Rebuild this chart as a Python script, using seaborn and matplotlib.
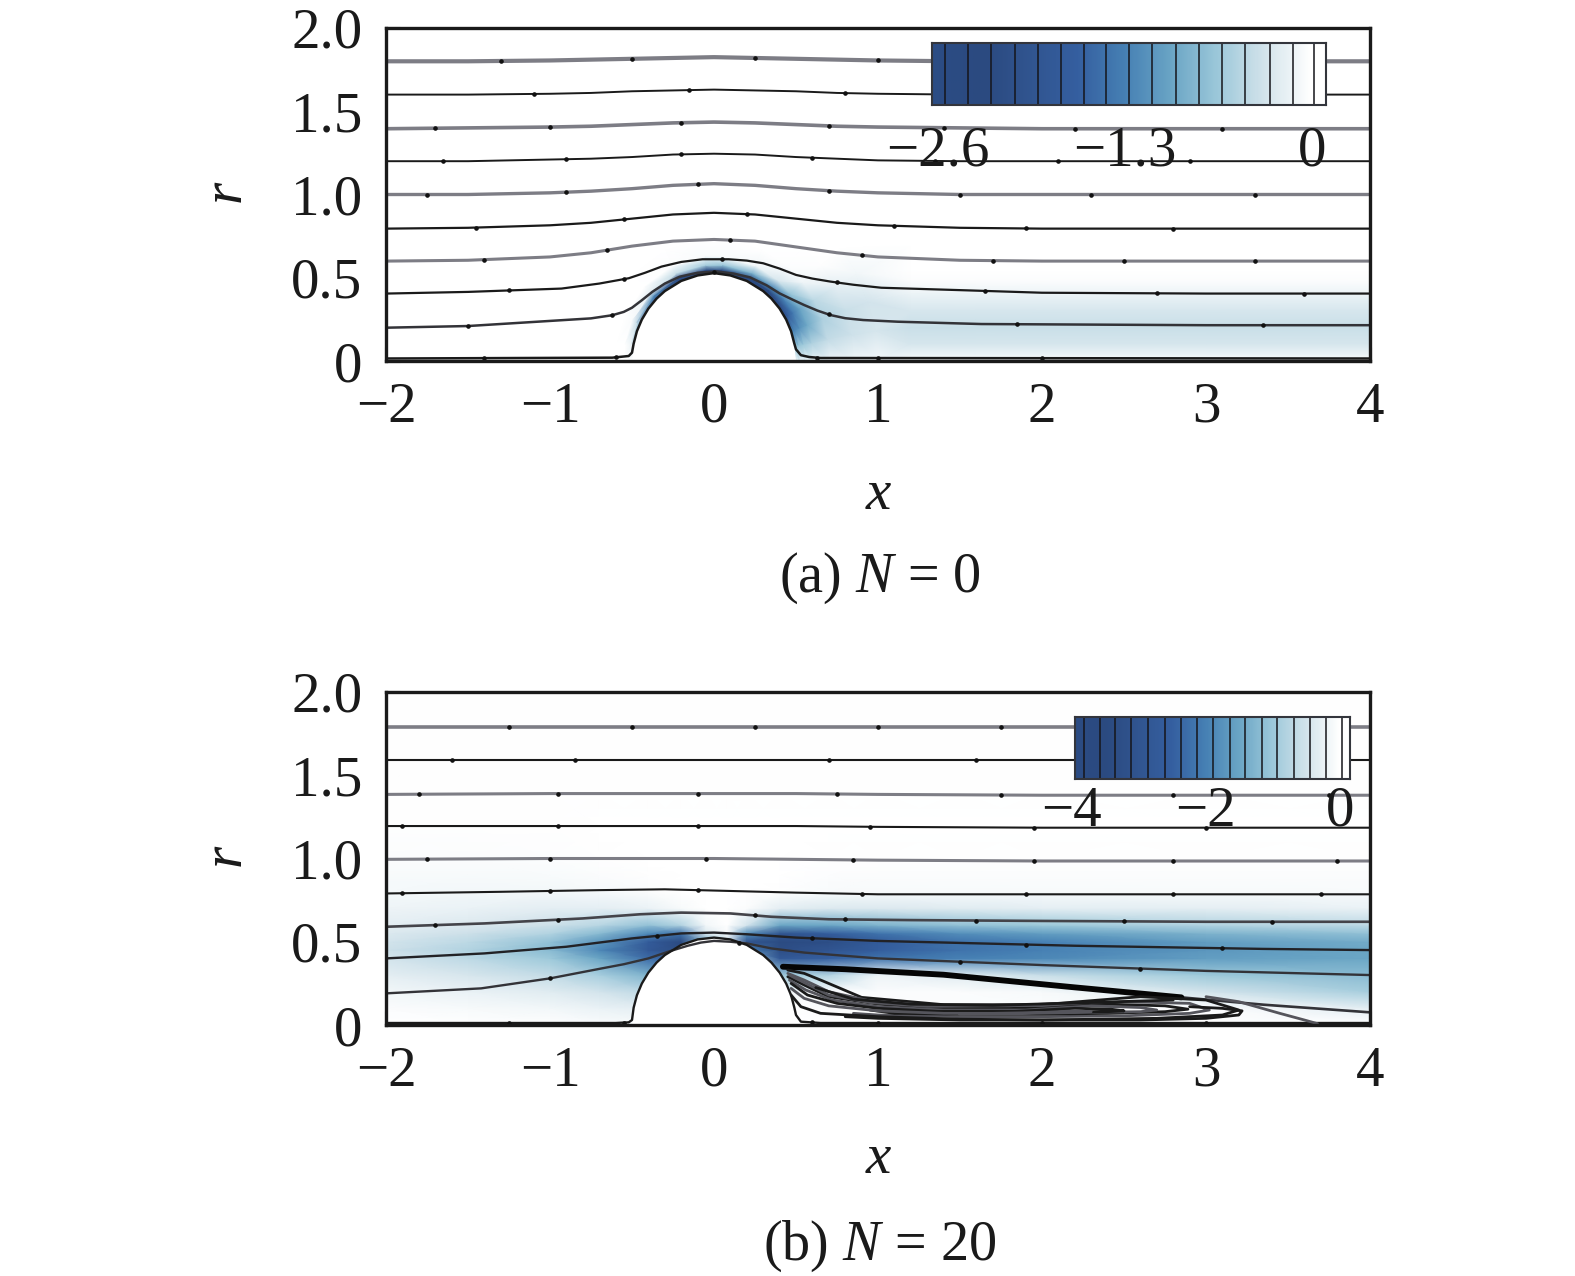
import numpy as np
import matplotlib
matplotlib.use("Agg")
import matplotlib.pyplot as plt
import seaborn as sns

sns.set_theme(style="ticks")
plt.rcParams.update({
    "font.family": ["Liberation Serif", "DejaVu Serif"],
    "mathtext.fontset": "custom",
    "mathtext.rm": "Liberation Serif",
    "mathtext.it": "Liberation Serif:italic",
    "axes.unicode_minus": True,
})

W, H = 1575, 1276
BLACK = "#1a1a1a"
GREY = "#7d7d85"

x_ticks = [-2, -1, 0, 1, 2, 3, 4]
x_ticklabels = ["\u22122", "\u22121", "0", "1", "2", "3", "4"]
r_ticks = [0, 0.5, 1.0, 1.5, 2.0]
r_ticklabels = ["0", "0.5", "1.0", "1.5", "2.0"]
r_minor = [0.1, 0.2, 0.3, 0.4, 0.6, 0.7, 0.8, 0.9, 1.1, 1.2, 1.3, 1.4, 1.6, 1.7, 1.8, 1.9]

cmap_colors = ["#2b4c84", "#2b4a80", "#315590", "#355fa0", "#4680b4",
               "#6aa5c5", "#9cc8da", "#d2e3eb", "#ffffff"]
cmap = sns.blend_palette(cmap_colors, as_cmap=True)

body_x = [-0.5, -0.49, -0.47, -0.44, -0.4, -0.35, -0.3, -0.25, -0.2, -0.15, -0.1, -0.05, 0,
          0.05, 0.1, 0.15, 0.2, 0.25, 0.3, 0.35, 0.4, 0.44, 0.47, 0.49, 0.5]
body_r = [0, 0.104, 0.179, 0.249, 0.315, 0.375, 0.42, 0.455, 0.481, 0.501, 0.514, 0.522, 0.525,
          0.522, 0.514, 0.501, 0.481, 0.455, 0.42, 0.375, 0.315, 0.249, 0.179, 0.104, 0]

# ---------- panel (a)
a_common_x = [-2, -1.5, -1, -0.75, -0.5, -0.25, 0, 0.25, 0.5, 0.75, 1, 1.5, 2, 3, 4]
a_r18 = [1.80, 1.80, 1.805, 1.81, 1.815, 1.82, 1.825, 1.82, 1.815, 1.81, 1.805, 1.80, 1.80, 1.80, 1.80]
a_r16 = [1.60, 1.60, 1.605, 1.61, 1.62, 1.625, 1.63, 1.625, 1.62, 1.61, 1.605, 1.60, 1.60, 1.60, 1.60]
a_r14 = [1.395, 1.40, 1.405, 1.41, 1.42, 1.43, 1.435, 1.43, 1.42, 1.41, 1.405, 1.40, 1.395, 1.395, 1.395]
a_r12 = [1.20, 1.20, 1.21, 1.215, 1.225, 1.24, 1.245, 1.24, 1.225, 1.215, 1.205, 1.20, 1.20, 1.20, 1.20]
a_r10 = [1.0, 1.0, 1.01, 1.02, 1.035, 1.055, 1.065, 1.055, 1.035, 1.02, 1.01, 1.0, 1.0, 1.0, 1.0]
a_r08 = [0.795, 0.80, 0.815, 0.83, 0.855, 0.88, 0.89, 0.88, 0.855, 0.83, 0.815, 0.80, 0.795, 0.795, 0.795]
a_r06 = [0.60, 0.605, 0.625, 0.65, 0.69, 0.72, 0.73, 0.72, 0.685, 0.65, 0.625, 0.605, 0.60, 0.60, 0.60]
a_r04_x = [-2, -1.5, -0.93, -0.7, -0.52, -0.42, -0.32, -0.2, -0.07, 0.09, 0.2, 0.30, 0.4, 0.5, 0.6, 0.71, 0.85, 1.02, 1.52, 2, 3, 4]
a_r04 = [0.405, 0.415, 0.435, 0.465, 0.497, 0.53, 0.567, 0.595, 0.611, 0.611, 0.603, 0.587, 0.555, 0.517, 0.495, 0.477, 0.458, 0.44, 0.425, 0.41, 0.405, 0.405]
a_r02_x = [-2, -1.5, -0.93, -0.75, -0.62, -0.55, -0.5, -0.44, -0.375, -0.3, -0.21, -0.1, 0.015, 0.12, 0.22, 0.32, 0.4, 0.48, 0.55, 0.63, 0.71, 0.8, 0.91, 1.12, 1.63, 3, 4]
a_r02 = [0.20, 0.21, 0.245, 0.256, 0.275, 0.295, 0.32, 0.365, 0.416, 0.465, 0.506, 0.53, 0.538, 0.525, 0.502, 0.455, 0.406, 0.368, 0.336, 0.303, 0.276, 0.257, 0.246, 0.236, 0.222, 0.215, 0.215]
a_r00_x = [-2, -0.62, -0.52, -0.5, -0.49, -0.47, -0.44, -0.4, -0.35, -0.3, -0.2, -0.1, 0, 0.1, 0.2, 0.3, 0.35, 0.4, 0.44, 0.47, 0.49, 0.5, 0.53, 0.58, 0.65, 4]
a_r00 = [0.015, 0.02, 0.03, 0.05, 0.104, 0.179, 0.249, 0.315, 0.375, 0.42, 0.481, 0.514, 0.528, 0.514, 0.481, 0.42, 0.375, 0.315, 0.249, 0.179, 0.104, 0.07, 0.035, 0.024, 0.018, 0.015]

a_lines = [(a_common_x, a_r18, GREY, 3.0), (a_common_x, a_r16, BLACK, 1.4),
           (a_common_x, a_r14, GREY, 2.6), (a_common_x, a_r12, BLACK, 1.4),
           (a_common_x, a_r10, GREY, 2.4), (a_common_x, a_r08, BLACK, 1.6),
           (a_common_x, a_r06, GREY, 2.2), (a_r04_x, a_r04, BLACK, 1.6),
           (a_r02_x, a_r02, "#333338", 1.8), (a_r00_x, a_r00, BLACK, 1.8)]
a_dots = [[-1.3, -0.5, 0.25, 1.0, 1.7, 2.5, 3.3], [-1.1, -0.15, 0.8, 1.5, 2.3, 3.1],
          [-1.7, -1.0, -0.2, 0.7, 1.4, 2.2, 3.1], [-1.65, -0.9, -0.2, 0.6, 1.35, 2.1, 2.9],
          [-1.75, -0.9, -0.1, 0.7, 1.5, 2.3, 3.3], [-1.45, -0.55, 0.2, 1.1, 1.9, 2.8],
          [-1.4, -0.65, 0.1, 0.9, 1.7, 2.5, 3.3], [-1.25, -0.55, 0.05, 0.75, 1.65, 2.7, 3.6],
          [-1.5, -0.62, 0.0, 0.7, 1.85, 3.35], [-1.4, -0.6, 0.63, 1.0, 2.0]]

a_theta = [180, 170, 155, 135, 115, 95, 85, 65, 50, 40, 30, 20, 10, 0]
a_rho = [0.5, 0.52, 0.55, 0.6, 0.7, 0.85, 1.0]
a_polar = [
    [0, 0, 0, 0, 0, 0, 0],
    [-0.2, -0.1, 0, 0, 0, 0, 0],
    [-0.8, -0.4, -0.05, 0, 0, 0, 0],
    [-1.9, -1.2, -0.2, 0, 0, 0, 0],
    [-2.5, -2.2, -0.4, -0.03, 0, 0, 0],
    [-2.6, -2.5, -0.6, -0.05, 0, 0, 0],
    [-2.6, -2.5, -0.7, -0.05, 0, 0, 0],
    [-2.6, -2.4, -0.9, -0.1, 0, 0, 0],
    [-2.5, -2.3, -1.2, -0.3, -0.03, 0, 0],
    [-2.3, -2.0, -1.3, -0.7, -0.12, -0.02, 0],
    [-1.9, -1.7, -1.4, -1.0, -0.45, -0.2, -0.1],
    [-1.3, -1.25, -1.15, -0.95, -0.55, -0.38, -0.32],
    [-0.7, -0.7, -0.65, -0.55, -0.42, -0.35, -0.3],
    [-0.15, -0.15, -0.15, -0.15, -0.12, -0.1, -0.08],
]
a_wake_x = [1.2, 1.6, 2, 3, 4]
a_wake_r = [0, 0.04, 0.1, 0.2, 0.3, 0.4, 0.48, 0.55, 0.7]
a_wake_v = [-0.06, -0.15, -0.3, -0.38, -0.3, -0.15, -0.04, 0, 0]
a_far_x = [-2, -1, 0, 1, 2, 3, 4]
a_far_r = [0, 1.2, 2.0]

a_levels = [-2.553, -2.39, -2.23, -2.06, -1.90, -1.74, -1.58, -1.43, -1.27, -1.11, -0.94,
            -0.78, -0.62, -0.46, -0.29, -0.13, 0.02]
a_cb_labels = ["\u22122.6", "\u22121.3", "0"]
a_cb_ticks = [-2.6, -1.3, 0]

# ---------- panel (b)
b_common_x = [-2, -1, -0.5, 0, 0.5, 1, 2, 3, 4]
b_r18 = [1.79, 1.79, 1.79, 1.79, 1.79, 1.79, 1.79, 1.79, 1.79]
b_r16 = [1.59, 1.59, 1.59, 1.59, 1.59, 1.59, 1.59, 1.59, 1.59]
b_r14 = [1.385, 1.39, 1.39, 1.39, 1.39, 1.385, 1.38, 1.38, 1.38]
b_r12 = [1.195, 1.195, 1.195, 1.195, 1.195, 1.19, 1.185, 1.185, 1.185]
b_r10 = [0.995, 1.0, 1.0, 1.0, 0.995, 0.99, 0.985, 0.985, 0.985]
b_r08_x = [-2, -1.3, -0.7, -0.3, 0.1, 0.5, 1, 2, 3, 4]
b_r08 = [0.79, 0.80, 0.81, 0.815, 0.805, 0.795, 0.785, 0.785, 0.785, 0.785]
b_r06_x = [-2, -1.4, -0.8, -0.45, -0.2, 0.1, 0.35, 0.7, 1.2, 2, 3, 4]
b_r06 = [0.59, 0.61, 0.64, 0.665, 0.675, 0.67, 0.65, 0.635, 0.63, 0.625, 0.62, 0.62]
b_r04_x = [-2, -1.4, -0.9, -0.5, -0.2, 0, 0.2, 0.5, 1, 2.2, 3.35, 4]
b_r04 = [0.40, 0.43, 0.47, 0.52, 0.55, 0.555, 0.545, 0.525, 0.505, 0.476, 0.457, 0.45]
b_r02_x = [-2, -1.42, -1, -0.7, -0.55, -0.4, -0.28, -0.16, -0.08, 0, 0.1, 0.2, 0.35, 0.55, 1, 2, 3, 4]
b_r02 = [0.19, 0.22, 0.28, 0.337, 0.365, 0.40, 0.44, 0.476, 0.495, 0.505, 0.50, 0.49, 0.46, 0.435, 0.40, 0.36, 0.325, 0.30]
b_sep_x = [0.42, 0.6, 1.4, 2.2, 2.85, 3.35, 4]
b_sep = [0.35, 0.346, 0.306, 0.226, 0.166, 0.122, 0.076]
b_thick_x = [0.42, 0.8, 1.4, 2.2, 2.85]
b_thick = [0.35, 0.335, 0.302, 0.226, 0.166]
b_r00_x = [-2, -0.6, -0.52, -0.5, -0.49, -0.47, -0.44, -0.4, -0.35, -0.3, -0.2, -0.1, 0, 0.1, 0.2, 0.3, 0.35, 0.4, 0.44, 0.47, 0.49, 0.5, 0.53, 0.65, 4]
b_r00 = [0.012, 0.012, 0.016, 0.03, 0.104, 0.179, 0.249, 0.315, 0.375, 0.42, 0.481, 0.514, 0.525, 0.514, 0.481, 0.42, 0.375, 0.315, 0.249, 0.179, 0.104, 0.06, 0.02, 0.012, 0.012]

b_lines = [(b_common_x, b_r18, GREY, 2.6), (b_common_x, b_r16, BLACK, 1.5),
           (b_common_x, b_r14, GREY, 2.2), (b_common_x, b_r12, BLACK, 1.5),
           (b_common_x, b_r10, GREY, 2.2),
           (b_r08_x, b_r08, BLACK, 1.5), (b_r06_x, b_r06, "#44444a", 1.9),
           (b_r04_x, b_r04, "#222226", 1.7), (b_r02_x, b_r02, "#333338", 1.7),
           (b_r00_x, b_r00, BLACK, 1.7), (b_sep_x, b_sep, "#333338", 1.9),
           (b_thick_x, b_thick, "#050505", 4.2)]
b_dots = [[-1.25, -0.5, 0.25, 1.0, 1.75, 2.5], [-1.6, -0.85, 0.7, 1.6, 2.5, 3.45],
          [-1.8, -0.95, -0.1, 0.75, 1.75, 2.8, 3.75], [-1.9, -0.95, -0.1, 0.95, 1.95, 3.0],
          [-1.75, -1, -0.05, 0.85, 1.95, 2.8, 3.8],
          [-1.9, -1.0, -0.1, 0.9, 1.9, 2.8, 3.7], [-1.7, -0.95, 0.25, 0.8, 1.6, 2.5, 3.4],
          [-0.35, 0.6, 1.9, 3.1], [-1.0, 0.15, 1.5, 2.6], [-1.25, -0.55, 0.6, 1.0, 2.0, 3.0], [], []]

b_loop1_x = [0.45, 0.55, 0.66, 0.9, 1.4, 2.0, 2.6, 3.0, 3.2, 3.1, 2.7, 2.0, 1.5, 1.0, 0.8]
b_loop1_r = [0.33, 0.31, 0.266, 0.166, 0.122, 0.122, 0.17, 0.15, 0.09, 0.06, 0.04, 0.03, 0.03, 0.04, 0.05]
b_loop2_x = [0.45, 0.55, 0.7, 0.95, 1.4, 2.0, 2.5, 2.9, 3.02, 2.9, 2.5, 2.0, 1.5, 1.0, 0.85]
b_loop2_r = [0.31, 0.27, 0.2, 0.145, 0.11, 0.11, 0.14, 0.13, 0.09, 0.07, 0.055, 0.05, 0.05, 0.06, 0.07]
b_loop3_x = [0.45, 0.55, 0.7, 1.0, 1.4, 2.0, 2.4, 2.75, 2.89, 2.75, 2.4, 2.0, 1.5, 1.1, 0.95]
b_loop3_r = [0.29, 0.24, 0.17, 0.125, 0.1, 0.1, 0.125, 0.115, 0.095, 0.08, 0.07, 0.065, 0.065, 0.07, 0.09]
b_loop4_x = [0.46, 0.56, 0.72, 1.0, 1.4, 1.9, 2.3, 2.6, 2.7, 2.6, 2.2, 1.8, 1.4, 1.1]
b_loop4_r = [0.27, 0.21, 0.15, 0.11, 0.09, 0.09, 0.115, 0.105, 0.09, 0.08, 0.075, 0.075, 0.075, 0.085]
b_loop5_x = [0.47, 0.57, 0.75, 1.0, 1.4, 1.8, 2.2, 2.42, 2.5, 2.4, 2.1, 1.7, 1.3]
b_loop5_r = [0.25, 0.18, 0.13, 0.1, 0.08, 0.08, 0.1, 0.095, 0.085, 0.08, 0.078, 0.08, 0.08]
b_loop6_x = [0.47, 0.55, 0.7, 1.0, 1.4, 1.7, 2.0, 2.2, 2.3, 2.2, 1.9, 1.5]
b_loop6_r = [0.22, 0.16, 0.115, 0.085, 0.07, 0.07, 0.075, 0.085, 0.08, 0.075, 0.07, 0.065]
b_loop7_x = [0.47, 0.53, 0.65, 1.0, 1.5, 2.0, 2.6, 3.0, 3.2, 3.22, 3.1, 2.9]
b_loop7_r = [0.18, 0.11, 0.07, 0.05, 0.035, 0.03, 0.03, 0.04, 0.06, 0.085, 0.1, 0.11]
b_loop8_x = [0.46, 0.56, 0.7, 0.95, 1.3, 1.8, 2.1]
b_loop8_r = [0.3, 0.25, 0.18, 0.135, 0.112, 0.115, 0.13]
b_loop9_x = [0.62, 0.85, 1.2, 1.7, 2.3, 2.8]
b_loop9_r = [0.225, 0.155, 0.125, 0.118, 0.135, 0.15]
b_tail_x = [3.0, 3.2, 3.45, 3.6, 3.68]
b_tail_r = [0.17, 0.14, 0.07, 0.03, 0.008]
b_loops = [(b_loop1_x, b_loop1_r), (b_loop2_x, b_loop2_r), (b_loop3_x, b_loop3_r), (b_loop4_x, b_loop4_r),
           (b_loop5_x, b_loop5_r), (b_loop6_x, b_loop6_r), (b_loop7_x, b_loop7_r), (b_loop8_x, b_loop8_r),
           (b_loop9_x, b_loop9_r), (b_tail_x, b_tail_r)]

b_grid_x = [-2, -1.5, -1, -0.7, -0.4, -0.2, -0.05, 0.08, 0.2, 0.4, 0.7, 1, 1.5, 2, 3, 4]
b_grid_r = [0, 0.1, 0.2, 0.3, 0.4, 0.45, 0.5, 0.55, 0.6, 0.7, 0.8, 0.9, 1.0, 1.2, 1.4, 2.0]
b_field = [
    [0, -0.01, -0.02, -0.05, -0.08, -0.1, 0, 0, 0, 0, 0, 0, 0, 0, 0, 0],
    [-0.05, -0.1, -0.15, -0.25, -0.3, -0.3, 0, 0, 0, 0, -0.05, -0.05, -0.05, -0.05, -0.05, -0.3],
    [-0.15, -0.25, -0.35, -0.5, -0.7, -0.9, 0, 0, 0, -0.2, -0.05, -0.05, -0.05, -0.1, -0.5, -0.9],
    [-0.3, -0.45, -0.65, -0.9, -1.3, -1.5, -1, -1, -1, -1.0, -0.8, -0.2, -0.35, -0.6, -1.0, -1.2],
    [-0.5, -0.7, -1.0, -1.5, -2.3, -2.4, -1, -1, -1, -2.8, -2.5, -2.2, -2.0, -1.9, -1.6, -1.5],
    [-0.55, -0.8, -1.2, -1.9, -2.8, -3.3, -1, -1, -2, -3.3, -3.0, -2.6, -2.2, -2.0, -1.7, -1.5],
    [-0.5, -0.7, -1.1, -1.7, -2.7, -3.6, -1.5, -0.5, -3.0, -3.8, -3.3, -2.7, -2.2, -2.0, -1.6, -1.4],
    [-0.4, -0.55, -0.8, -1.2, -1.9, -2.2, -0.4, -0.1, -1.8, -3.0, -2.6, -2.2, -1.8, -1.6, -1.3, -1.1],
    [-0.3, -0.4, -0.55, -0.75, -1.1, -0.8, -0.15, 0, -0.5, -1.5, -1.5, -1.3, -1.1, -1.0, -0.8, -0.7],
    [-0.2, -0.25, -0.3, -0.3, -0.25, -0.1, 0, 0, -0.05, -0.3, -0.4, -0.4, -0.35, -0.3, -0.3, -0.25],
    [-0.12, -0.15, -0.15, -0.12, -0.05, 0, 0, 0, 0, -0.03, -0.08, -0.1, -0.1, -0.1, -0.1, -0.08],
    [-0.1, -0.1, -0.08, -0.05, -0.02, 0, 0, 0, 0, 0, -0.04, -0.06, -0.06, -0.06, -0.06, -0.06],
    [-0.06, -0.06, -0.04, -0.03, 0, 0, 0, 0, 0, 0, -0.02, -0.03, -0.03, -0.03, -0.03, -0.03],
    [-0.03, -0.03, -0.02, -0.01, 0, 0, 0, 0, 0, 0, 0, -0.01, -0.01, -0.01, -0.01, -0.01],
    [-0.02, -0.02, -0.02, -0.02, -0.02, -0.02, -0.02, -0.02, -0.02, -0.02, -0.02, -0.02, -0.02, -0.02, -0.02, -0.02],
    [-0.03, -0.03, -0.03, -0.03, -0.03, -0.03, -0.03, -0.03, -0.03, -0.03, -0.03, -0.03, -0.03, -0.03, -0.03, -0.03],
]
b_levels = [-3.81, -3.57, -3.34, -3.10, -2.85, -2.60, -2.37, -2.13, -1.89, -1.64, -1.41, -1.16,
            -0.93, -0.68, -0.45, -0.21, 0.03]
b_cb_labels = ["\u22124", "\u22122", "0"]
b_cb_ticks = [-4, -2, 0]


def px_axes(fig, left, top, right, bottom, **kw):
    return fig.add_axes([left / W, 1 - bottom / H, (right - left) / W, (bottom - top) / H], **kw)


def style_axes(ax):
    ax.set_xlim(-2, 4)
    ax.set_ylim(0, 2)
    ax.set_xticks(x_ticks, x_ticklabels)
    ax.set_yticks(r_ticks, r_ticklabels)
    ax.set_yticks(r_minor, minor=True)
    ax.tick_params(axis="both", which="major", direction="in", length=10, width=2.2,
                   labelsize=41, color=BLACK, labelcolor=BLACK)
    ax.tick_params(axis="x", which="major", pad=15)
    ax.tick_params(axis="y", which="major", pad=17)
    ax.tick_params(axis="y", which="minor", direction="in", length=2.5, width=1.5, color=BLACK)
    for s in ax.spines.values():
        s.set_visible(True)
        s.set_linewidth(2.4)
        s.set_color(BLACK)
        s.set_zorder(20)
    ax.set_xlabel("x", style="italic", fontsize=41, color=BLACK)
    ax.set_ylabel("r", style="italic", fontsize=41, color=BLACK)
    ax.xaxis.set_label_coords(0.50, -0.325)
    ax.yaxis.set_label_coords(-0.137, 0.51)
    ax.set_facecolor("white")


def draw_lines(ax, lines, dots):
    for (lx, lr, col, lw), d in zip(lines, dots):
        sns.lineplot(x=lx, y=lr, ax=ax, color=col, linewidth=lw, sort=False,
                     estimator=None, legend=False, zorder=5)
        if d:
            ax.plot(d, np.interp(d, lx, lr), ls="none", marker="o", ms=2.3,
                    color="#111111", zorder=6, clip_on=True)


def draw_body(ax):
    ax.fill(body_x, body_r, color="white", lw=0, zorder=3)


def draw_colorbar(fig, ax, rect, extent, levels, ticks, labels, vmin, label_y):
    cax = px_axes(fig, *rect)
    cax.set_zorder(10)
    vals = np.array([np.linspace(extent[0], extent[1], 300)])
    cax.imshow(vals, aspect="auto", extent=[extent[0], extent[1], 0, 1], cmap=cmap, vmin=vmin, vmax=0)
    cax.vlines(levels, 0, 1, color="#15151a", lw=1.1)
    cax.set_xticks([])
    cax.set_yticks([])
    for s in cax.spines.values():
        s.set_visible(True)
        s.set_color("#33353c")
        s.set_linewidth(1.5)
    left, top, right, bottom = rect
    sc = (right - left) / (extent[1] - extent[0])
    for t, lab in zip(ticks, labels):
        px = left + (t - extent[0]) * sc
        fig.text(px / W, 1 - label_y / H, lab, ha="center", va="center", fontsize=41,
                 color=BLACK, zorder=12)


fig = plt.figure(figsize=(W / 100, H / 100), dpi=100, facecolor="white")

# panel (a)
ax1 = px_axes(fig, 386, 28, 1370, 361)
tx, tr, tv = [], [], []
for i, th in enumerate(a_theta):
    for j, rho in enumerate(a_rho):
        tx.append(rho * np.cos(np.radians(th)))
        tr.append(1.05 * rho * np.sin(np.radians(th)))
        tv.append(a_polar[i][j])
for wx in a_wake_x:
    for wr, wv in zip(a_wake_r, a_wake_v):
        tx.append(wx)
        tr.append(wr)
        tv.append(wv)
for fx in a_far_x:
    for fr in a_far_r:
        if fr == 0 and fx > -0.5:
            continue
        tx.append(fx)
        tr.append(fr)
        tv.append(0)
ax1.tripcolor(tx, tr, tv, shading="gouraud", cmap=cmap, vmin=-2.6, vmax=0, zorder=1)
draw_body(ax1)
draw_lines(ax1, a_lines, a_dots)
style_axes(ax1)
draw_colorbar(fig, ax1, (932, 43, 1326, 105), (-2.64, 0.10), a_levels, a_cb_ticks, a_cb_labels, -2.6, 152)
fig.text(880 / W, 1 - 578 / H, r"(a) $N$ = 0", ha="center", va="center", fontsize=40.5, color=BLACK)

# panel (b)
ax2 = px_axes(fig, 386, 692, 1370, 1025)
ax2.pcolormesh(b_grid_x, b_grid_r, np.array(b_field), shading="gouraud", cmap=cmap, vmin=-4, vmax=0, zorder=1)
draw_body(ax2)
draw_lines(ax2, b_lines, b_dots)
for i, (lx, lr) in enumerate(b_loops):
    sns.lineplot(x=lx, y=lr, ax=ax2, color=(BLACK if i % 2 == 0 else "#55555c"), linewidth=2.0,
                 sort=False, estimator=None, legend=False, zorder=5)
style_axes(ax2)
draw_colorbar(fig, ax2, (1075, 717, 1350, 779), (-3.94, 0.15), b_levels, b_cb_ticks, b_cb_labels, -4, 812)
fig.text(880 / W, 1 - 1246 / H, r"(b) $N$ = 20", ha="center", va="center", fontsize=40.5, color=BLACK)

fig.savefig("out.png", dpi=100, facecolor="white")
